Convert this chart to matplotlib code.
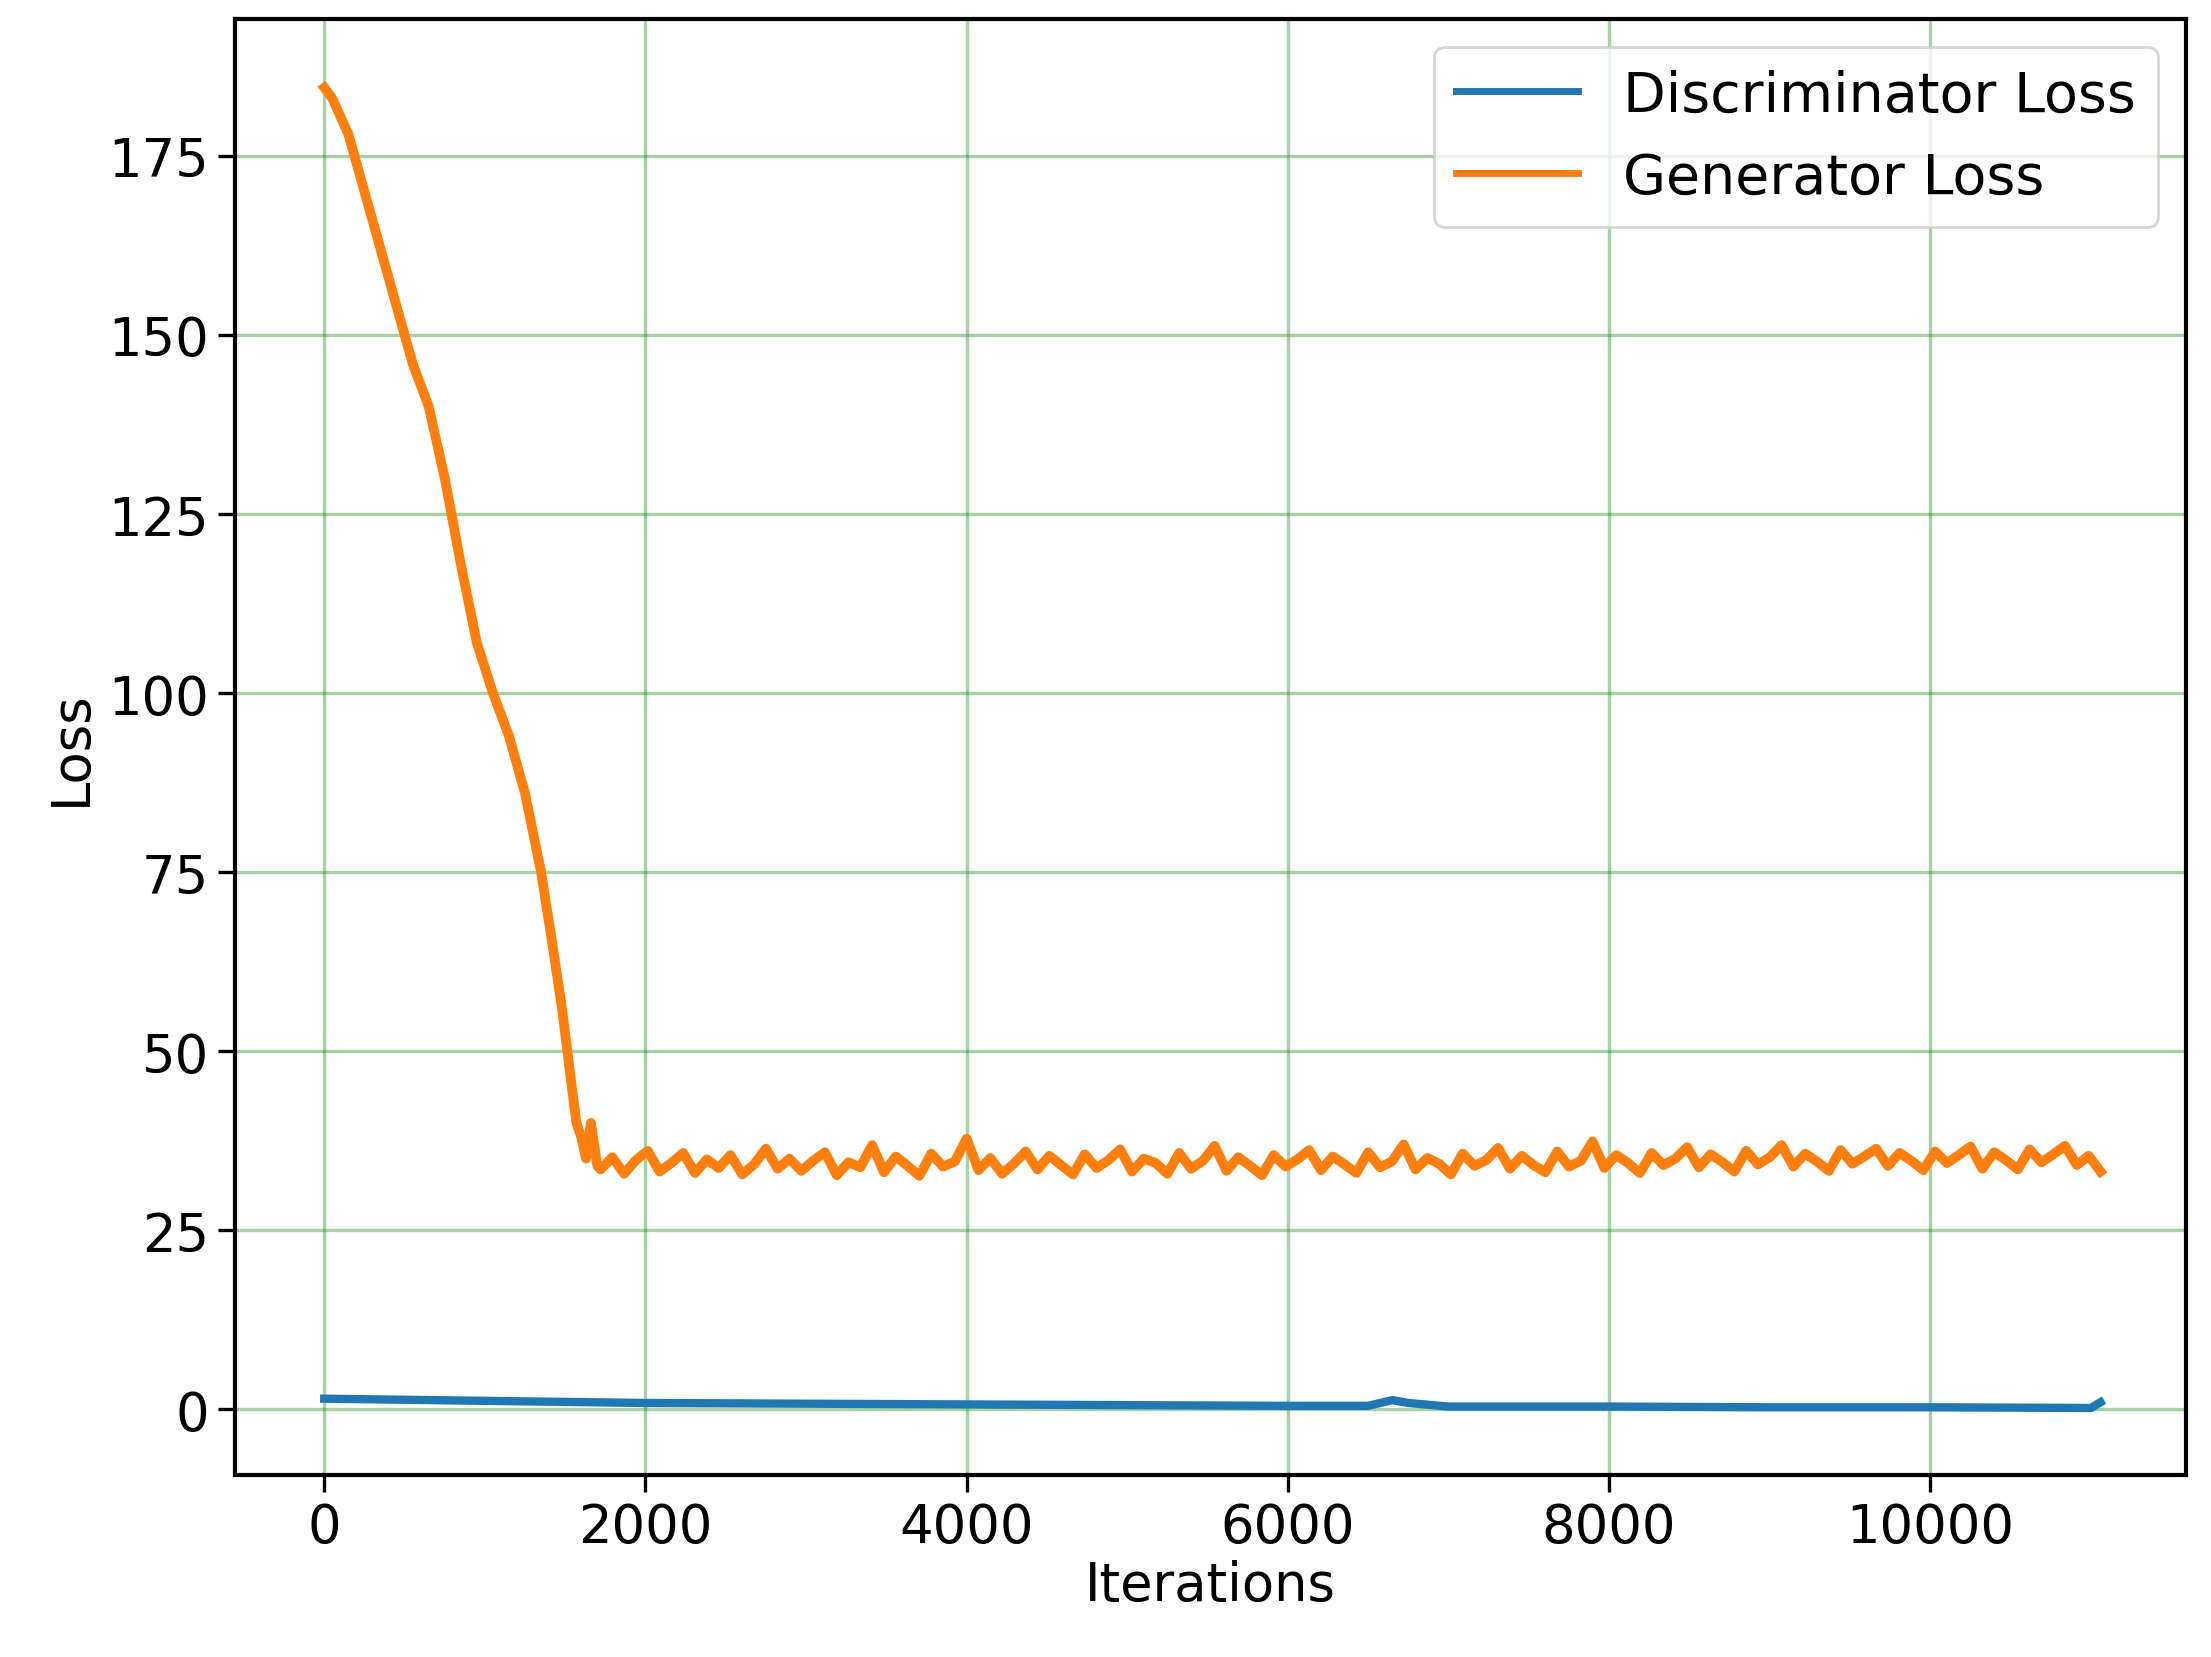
import matplotlib
matplotlib.use("Agg")
import matplotlib.pyplot as plt
import numpy as np

# Generator loss: descent key points
gen_desc_x = [0, 50, 150, 250, 350, 450, 550, 650, 750, 850, 950, 1050, 1150, 1250, 1350, 1420, 1480, 1530, 1570, 1600, 1630, 1660, 1700]
gen_desc_y = [184.5, 183, 178, 170, 162, 154, 146, 140, 130, 118, 107, 100, 94, 86, 75, 65, 56, 47, 40, 38, 35, 40, 34]
# Generator loss plateau (read by eye, noisy band ~32-37)
gen_plat_y = [33.5, 35.2, 32.9, 34.8, 36.1, 33.2, 34.4, 35.8, 33.0, 34.9, 33.7, 35.5, 32.8, 34.2, 36.4, 33.6, 35.0, 33.3, 34.7, 35.9,
              32.7, 34.5, 33.8, 36.9, 33.1, 35.3, 34.0, 32.6, 35.7, 33.9, 34.6, 37.8, 33.4, 35.1, 32.9, 34.3, 36.0, 33.5, 35.4, 34.1,
              32.8, 35.6, 33.7, 34.8, 36.3, 33.2, 35.0, 34.4, 32.9, 35.8, 33.6, 34.7, 36.8, 33.3, 35.2, 34.0, 32.7, 35.5, 33.9, 34.9,
              36.2, 33.4, 35.3, 34.2, 33.0, 35.9, 33.8, 34.6, 37.0, 33.5, 35.1, 34.3, 32.8, 35.7, 34.0, 34.8, 36.5, 33.6, 35.4, 34.1,
              33.1, 36.0, 33.9, 34.7, 37.4, 33.7, 35.5, 34.4, 33.0, 35.8, 34.1, 35.0, 36.6, 33.8, 35.6, 34.5, 33.2, 36.1, 34.2, 35.2,
              36.9, 33.9, 35.7, 34.6, 33.3, 36.2, 34.3, 35.3, 36.4, 34.0, 35.8, 34.7, 33.4, 36.0, 34.4, 35.5, 36.7, 33.6, 35.9, 34.8,
              33.5, 36.3, 34.5, 35.6, 36.8, 34.1, 35.4, 33.2]
# Discriminator loss key points
disc_x = [0, 1000, 2000, 3000, 4000, 5000, 6000, 6500, 6650, 6750, 7000, 8000, 9000, 10000, 11000, 11060]
disc_y = [1.5, 1.2, 0.9, 0.8, 0.7, 0.6, 0.5, 0.5, 1.3, 0.9, 0.4, 0.4, 0.3, 0.3, 0.2, 1.0]

plat_x = np.linspace(1720, 11060, len(gen_plat_y))
gx = np.concatenate([gen_desc_x, plat_x])
gy = np.concatenate([gen_desc_y, gen_plat_y])

fig = plt.figure(figsize=(11.055, 8.29), dpi=200)
ax = fig.add_axes([0.1065, 0.11, 0.882, 0.878])
ax.plot(disc_x, disc_y, color="#1f77b4", lw=3, label="Discriminator Loss")
ax.plot(gx, gy, color="#ff7f0e", lw=3.5, label="Generator Loss")
ax.set_xlim(-553, 11590)
ax.set_ylim(-9.1, 194.1)
ax.set_yticks([0, 25, 50, 75, 100, 125, 150, 175])
ax.set_xticks([0, 2000, 4000, 6000, 8000, 10000])
ax.grid(True, color="green", alpha=0.35, lw=1.2)
ax.tick_params(labelsize=19, width=1.2, length=6)
ax.set_xlabel("Iterations", fontsize=19, labelpad=2)
ax.set_ylabel("Loss", fontsize=19)
for s in ax.spines.values():
    s.set_linewidth(1.5)
leg = ax.legend(fontsize=20, loc="upper right", handlelength=2.2)
for h in leg.get_lines():
    h.set_linewidth(2.5)
fig.savefig("out.png", dpi=200)
